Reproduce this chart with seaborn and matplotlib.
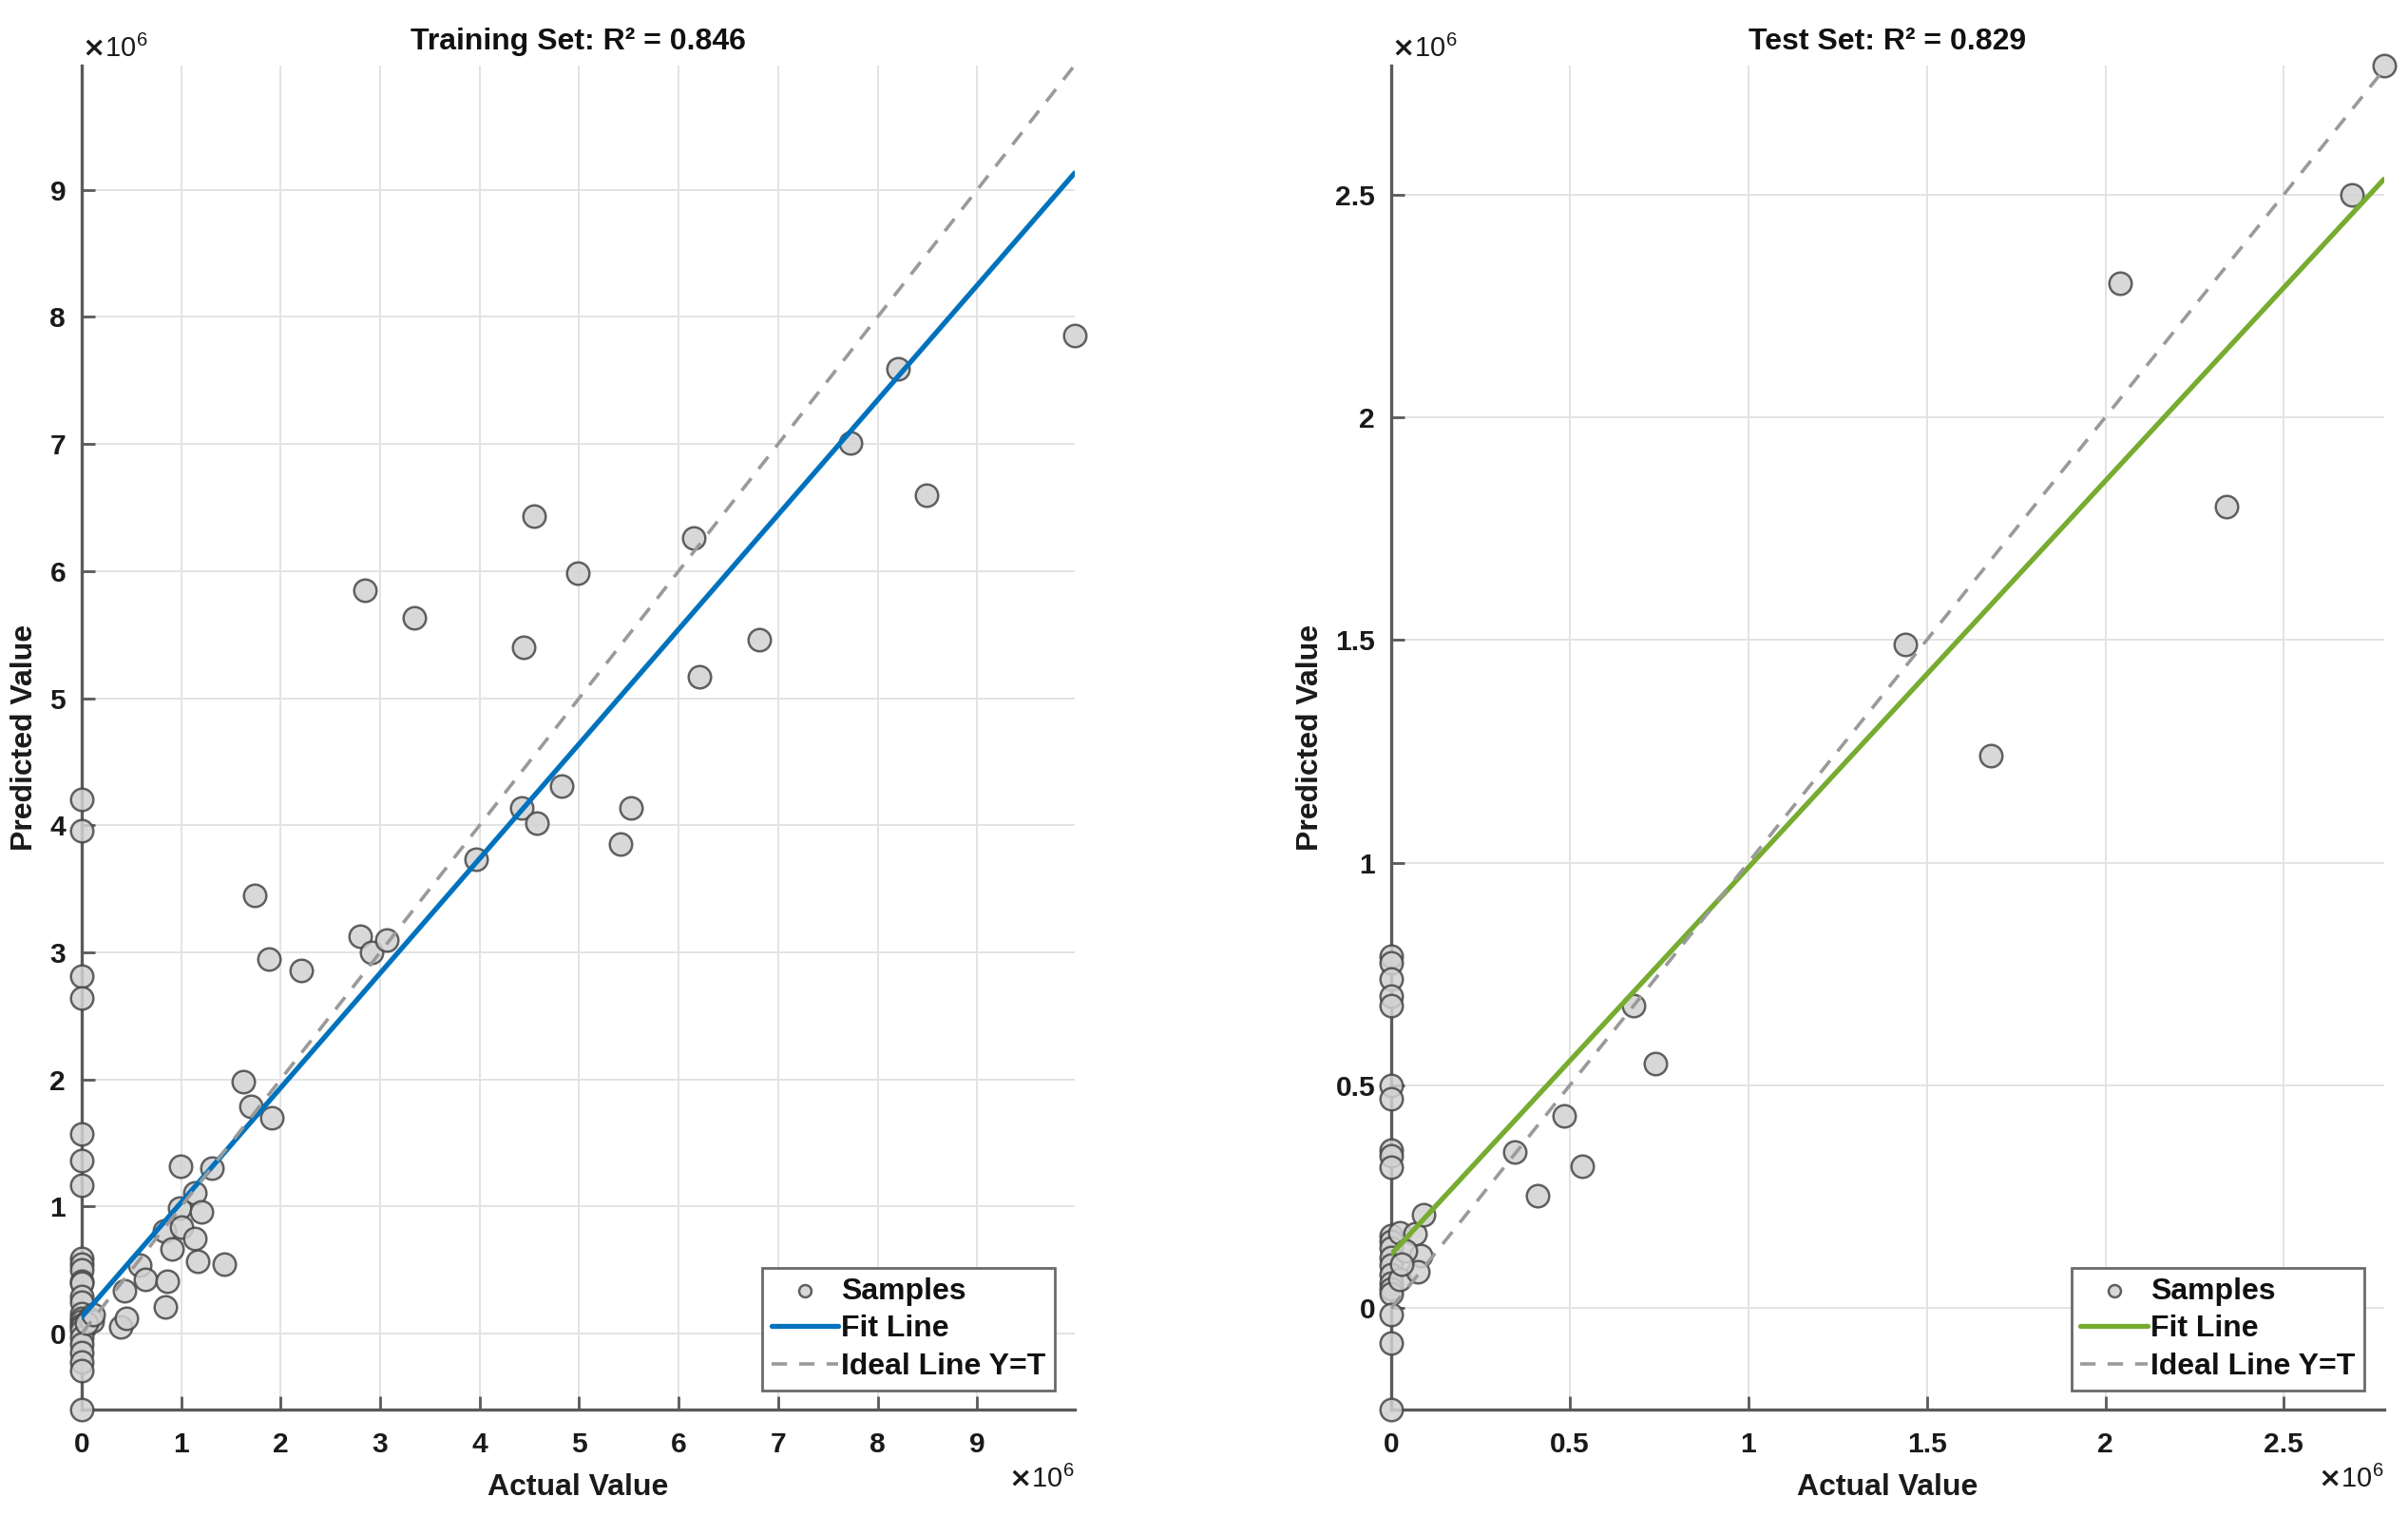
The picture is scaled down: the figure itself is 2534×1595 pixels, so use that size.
import numpy as np
import pandas as pd
import matplotlib
matplotlib.use("Agg")
import matplotlib.pyplot as plt
from matplotlib import ticker
import seaborn as sns

# ---------------- data (values in units of 1e6) ----------------
SCALE = 1e6

train_actual = [0.0, 0.0, 0.0, 0.0, 0.0, 0.0, 0.0, 0.0, 0.0, 0.0, 0.0, 0.0, 0.0,
                0.0, 0.0, 0.0, 0.0, 0.0, 0.0, 0.0, 0.0, 0.0, 0.0, 0.0, 0.0, 0.0,
                0.08, 0.11, 0.05, 0.12,
                0.39, 0.45, 0.43, 0.58, 0.64, 0.84, 0.86, 0.83, 0.91, 0.98, 1.00,
                0.99, 1.14, 1.14, 1.17, 1.20, 1.31, 1.43, 1.62, 1.70, 1.91, 1.74,
                1.88, 2.21, 2.80, 2.91, 3.07, 2.85, 3.34, 3.96, 4.42, 4.44, 4.55,
                4.58, 4.82, 4.99, 5.42, 5.52, 6.15, 6.21, 6.81, 7.73, 8.20, 8.49, 9.98]
train_pred = [4.20, 3.96, 2.81, 2.64, 1.57, 1.36, 1.17, 0.59, 0.55, 0.50, 0.41, 0.40, 0.29,
              0.25, 0.16, 0.12, 0.10, 0.07, 0.05, 0.02, -0.03, -0.08, -0.15, -0.22, -0.29, -0.60,
              0.12, 0.10, 0.08, 0.15,
              0.05, 0.12, 0.34, 0.54, 0.43, 0.21, 0.41, 0.81, 0.67, 0.99, 0.84,
              1.32, 1.11, 0.75, 0.57, 0.96, 1.30, 0.55, 1.98, 1.79, 1.70, 3.45,
              2.95, 2.86, 3.13, 3.00, 3.10, 5.85, 5.63, 3.73, 4.14, 5.40, 6.43,
              4.02, 4.31, 5.98, 3.85, 4.14, 6.26, 5.17, 5.46, 7.01, 7.59, 6.60, 7.85]

test_actual = [0.0, 0.0, 0.0, 0.0, 0.0, 0.0, 0.0, 0.0, 0.0, 0.0, 0.0,
               0.0, 0.0, 0.0, 0.0, 0.0, 0.0, 0.0, 0.0, 0.0, 0.0, 0.0,
               0.025, 0.025, 0.067, 0.09, 0.083, 0.075, 0.04, 0.03,
               0.347, 0.411, 0.484, 0.535, 0.68, 0.74, 1.44, 1.68, 2.04, 2.34, 2.69, 2.78]
test_pred = [0.79, 0.775, 0.74, 0.70, 0.68, 0.50, 0.47, 0.356, 0.342, 0.317, 0.164,
             0.150, 0.136, 0.114, 0.096, 0.075, 0.057, 0.043, 0.032, -0.014, -0.078, -0.228,
             0.17, 0.064, 0.168, 0.21, 0.118, 0.082, 0.13, 0.10,
             0.351, 0.253, 0.431, 0.319, 0.68, 0.55, 1.49, 1.24, 2.30, 1.80, 2.50, 2.79]

# fitted lines: predicted = slope * actual + intercept
train_fit = (0.902, 0.13)
test_fit = (0.868, 0.121)

titles = ["Training Set: R\u00b2 = 0.846", "Test Set: R\u00b2 = 0.829"]
fit_colors = ["#0072BD", "#77AC30"]
tick_steps = [1.0, 0.5]

# ---------------- style ----------------
sns.set_theme(style="whitegrid")
plt.rcParams["font.family"] = ["Liberation Sans", "DejaVu Sans"]
plt.rcParams["font.weight"] = "bold"
plt.rcParams["axes.labelweight"] = "bold"
plt.rcParams["axes.titleweight"] = "bold"


class MillionFormatter(ticker.ScalarFormatter):
    def __call__(self, x, pos=None):
        v = x / 10 ** self.orderOfMagnitude
        if abs(v) < 1e-9:
            v = 0.0
        return f"{v:g}"


fig = plt.figure(figsize=(12.67, 7.975), dpi=200)
ax_left = fig.add_axes([0.0339, 0.070, 0.4124, 0.887])
ax_right = fig.add_axes([0.5777, 0.070, 0.4123, 0.887])

sets = [
    (ax_left, train_actual, train_pred, train_fit),
    (ax_right, test_actual, test_pred, test_fit),
]

for i, (ax, act, pred, fit) in enumerate(sets):
    act = np.asarray(act) * SCALE
    pred = np.asarray(pred) * SCALE
    df = pd.DataFrame({"Actual Value": act, "Predicted Value": pred})

    sns.scatterplot(data=df, x="Actual Value", y="Predicted Value", ax=ax,
                    s=72, color="#d2d2d2", edgecolor="#474747", linewidth=0.9,
                    alpha=0.85, clip_on=False, zorder=3, label="Samples")

    x_line = np.array([act.min(), act.max()])
    slope, intercept = fit
    ax.plot(x_line, slope * x_line + intercept * SCALE, color=fit_colors[i],
            lw=1.9, label="Fit Line", zorder=4)
    ax.plot(x_line, x_line, color="#9a9a9a", lw=1.3, ls=(0, (4.5, 3.5)),
            label="Ideal Line Y=T", zorder=5)

    ax.set_xlim(act.min(), act.max())
    ax.set_ylim(min(pred.min(), act.min()), max(pred.max(), act.max()))

    for axis in (ax.xaxis, ax.yaxis):
        fmt = MillionFormatter(useMathText=True)
        fmt.set_powerlimits((0, 0))
        axis.set_major_formatter(fmt)
        axis.set_major_locator(ticker.MultipleLocator(tick_steps[i] * SCALE))
        axis.get_offset_text().set_fontsize(10.5)
        axis.get_offset_text().set_fontweight("normal")
        axis.get_offset_text().set_color("#333333")

    ax.grid(True, color="#e3e3e3", lw=0.7)
    ax.set_axisbelow(True)
    for side in ("top", "right"):
        ax.spines[side].set_visible(False)
    for side in ("left", "bottom"):
        ax.spines[side].set_color("#5a5a5a")
        ax.spines[side].set_linewidth(1.2)
    ax.tick_params(axis="both", which="major", direction="in", length=5, width=1,
                   color="#5a5a5a", labelcolor="#1a1a1a", labelsize=10.8,
                   bottom=True, left=True)
    ax.tick_params(axis="x", pad=8)
    ax.tick_params(axis="y", pad=6)

    ax.set_xlabel("Actual Value", fontsize=11.5, fontweight="bold", labelpad=6,
                  color="#1a1a1a")
    ax.set_ylabel("Predicted Value", fontsize=11.5, fontweight="bold", labelpad=4,
                  color="#1a1a1a")
    ax.set_title(titles[i], fontsize=11.5, fontweight="bold", pad=6, color="#111111")

    leg = ax.legend(loc="lower right", frameon=True, fancybox=False,
                    edgecolor="#6a6a6a", framealpha=1.0, borderaxespad=0.65,
                    handlelength=2.2, handletextpad=0.1, labelspacing=0.3,
                    borderpad=0.3, markerscale=0.55,
                    prop={"weight": "bold", "size": 11.5})
    leg.get_frame().set_linewidth(1.0)
    for txt in leg.get_texts():
        txt.set_color("#111111")

fig.savefig("out.png", dpi=200)
